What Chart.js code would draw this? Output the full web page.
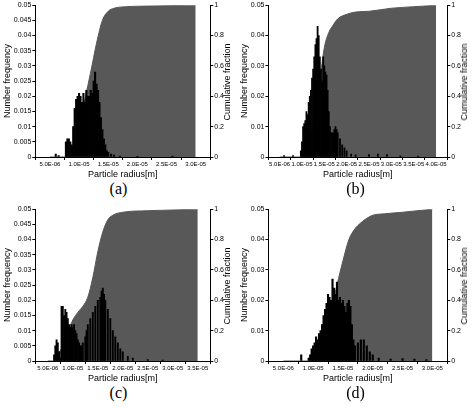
<!DOCTYPE html>
<html><head><meta charset="utf-8">
<script src="https://cdn.jsdelivr.net/npm/chart.js@4/dist/chart.umd.min.js"></script>
<style>
body{margin:0;background:#fff;width:474px;height:407px;overflow:hidden}
.grid{display:grid;grid-template-columns:237px 237px;grid-template-rows:204px 203px}
.cell{position:relative}
.cell canvas{position:absolute;left:0;top:0}
.cap{position:absolute;left:0;width:237px;top:180px;text-align:center;font:16px "Liberation Serif",serif}
.rt{position:absolute;left:227px;top:82px;width:0;height:0;font:9px "Liberation Sans",Arial,sans-serif}
.rt span{position:absolute;transform:translate(-50%,-50%) rotate(-90deg);white-space:nowrap;left:0;top:0}
</style></head><body>
<div class="grid">
<div class="cell"><canvas id="ca" width="237" height="180"></canvas><div class="rt"><span>Cumulative fraction</span></div><div class="cap">(a)</div></div>
<div class="cell"><canvas id="cb" width="237" height="180"></canvas><div class="rt"><span>Cumulative fraction</span></div><div class="cap">(b)</div></div>
<div class="cell"><canvas id="cc" width="237" height="180"></canvas><div class="rt"><span>Cumulative fraction</span></div><div class="cap">(c)</div></div>
<div class="cell"><canvas id="cd" width="237" height="180"></canvas><div class="rt"><span>Cumulative fraction</span></div><div class="cap">(d)</div></div>
</div>
<script>
// radius in micrometres, frequencies, cumulative fraction
const radiusA = [6,6.5,7.75,8,8.25,8.5,8.75,9,9.25,9.5,9.75,10,10.25,10.5,10.75,11,11.25,11.5,11.75,12,12.25,12.5,12.75,13,13.25,13.5,13.75,14,14.25,14.5,14.75,15,15.5,16,17,20,26];
const freqA   = [0.001,0.0005,0.005,0.006,0.006,0.005,0.004,0.01,0.016,0.019,0.02,0.021,0.02,0.018,0.021,0.018,0.022,0.02,0.02,0.022,0.021,0.025,0.028,0.024,0.022,0.018,0.013,0.009,0.006,0.004,0.002,0.0015,0.001,0.0006,0.0003,0.0002,0.0003];
const cumXA = [5,7.7,8,9,10,11,12,13,14,15,16,18,22,30];
const cumYA = [0,0,0.02,0.07,0.2,0.38,0.56,0.75,0.9,0.96,0.98,0.99,0.995,1];

const radiusB = [6,8,9.75,10,10.25,10.5,10.75,11,11.25,11.5,11.75,12,12.25,12.5,12.75,13,13.25,13.5,13.75,14,14.25,14.5,14.75,15,15.25,15.5,15.75,16,16.25,16.5,16.75,17,17.25,17.5,17.75,18,18.5,19,19.5,20,21,22,25,27,29,32,36];
const freqB   = [0.0005,0.0005,0.002,0.005,0.01,0.011,0.012,0.015,0.014,0.018,0.02,0.022,0.026,0.029,0.033,0.037,0.039,0.043,0.04,0.033,0.029,0.025,0.033,0.03,0.028,0.027,0.022,0.015,0.01,0.008,0.008,0.008,0.009,0.01,0.009,0.008,0.006,0.004,0.003,0.002,0.001,0.0007,0.0008,0.001,0.0008,0.0004,0.0003];
const cumXB = [5,9.5,10,11,12,13,14,15,16,17,18,20,22,25,30,35,40];
const cumYB = [0,0,0.01,0.06,0.14,0.28,0.5,0.72,0.82,0.87,0.91,0.94,0.955,0.96,0.98,0.99,1];

const radiusC = [6.25,6.5,6.75,7,7.25,7.5,7.75,8,8.25,8.5,8.75,9,9.25,9.5,9.75,10,10.25,10.5,10.75,11,11.25,11.5,11.75,12,12.5,12.75,13,13.5,14,14.5,15,15.5,15.75,16,16.25,16.5,17,17.5,18,18.5,19,19.5,20,21,22,25,28];
const freqC   = [0.002,0.005,0.007,0.006,0.003,0.001,0.018,0.018,0.015,0.017,0.016,0.014,0.012,0.011,0.012,0.011,0.012,0.01,0.009,0.007,0.006,0.005,0.005,0.006,0.008,0.01,0.012,0.014,0.016,0.018,0.02,0.021,0.023,0.024,0.022,0.02,0.017,0.014,0.01,0.008,0.006,0.004,0.003,0.0015,0.001,0.0005,0.0003];
const cumXC = [5,6,7,7.7,9,10,11,12,13,14,15,16,17,18,20,25,35];
const cumYC = [0,0,0.05,0.08,0.19,0.27,0.32,0.36,0.42,0.55,0.72,0.85,0.93,0.96,0.98,0.99,1];

const radiusD = [8,9.25,9.5,9.75,10,10.25,10.5,10.75,11,11.25,11.5,11.75,12,12.25,12.5,12.75,13,13.25,13.5,13.75,14,14.25,14.5,14.75,15,15.25,15.5,15.75,16,16.25,16.5,16.75,17,17.5,18,18.5,19,19.5,20,21,23,25,27,29];
const freqD   = [0.002,0.001,0.002,0.004,0.005,0.006,0.008,0.007,0.009,0.01,0.012,0.015,0.017,0.019,0.022,0.021,0.02,0.027,0.024,0.022,0.026,0.02,0.021,0.019,0.02,0.018,0.016,0.019,0.02,0.018,0.012,0.007,0.005,0.006,0.007,0.007,0.005,0.003,0.002,0.001,0.0006,0.0008,0.0006,0.0005];
const cumXD = [5,9,10,11,12,13,14,15,16,17,18,19,20,22,25,30];
const cumYD = [0,0,0.03,0.08,0.18,0.32,0.5,0.66,0.8,0.87,0.91,0.94,0.96,0.97,0.98,1];

const font = {family:'"Liberation Sans", Arial, sans-serif', size: 7};

function fmtE(v) {
  const e = Math.floor(Math.log10(v * 1e-6) + 1e-9);
  const m = (v * 1e-6) / Math.pow(10, e);
  const s = e < 0 ? '-' : '+';
  return m.toFixed(1) + 'E' + s + String(Math.abs(e)).padStart(2, '0');
}

function panel(id, xs, fs, cx, cy, xmax, ystep) {
  const axisCommon = {
    border: {color: '#000', width: 1},
    grid: {drawOnChartArea: false, tickLength: 3, color: '#000'},
    ticks: {color: '#000', font: font, padding: 1}
  };
  new Chart(document.getElementById(id), {
    data: {
      datasets: [
        {type: 'bar', data: xs.map((x, i) => ({x: x, y: fs[i]})), backgroundColor: '#000',
         barPercentage: 1, categoryPercentage: 1, yAxisID: 'y', order: 1},
        {type: 'line', data: cx.map((x, i) => ({x: x, y: cy[i]})), yAxisID: 'y2',
         fill: 'origin', backgroundColor: '#585858', borderColor: '#585858', borderWidth: 1,
         pointRadius: 0, cubicInterpolationMode: 'monotone', order: 2}
      ]
    },
    options: {
      responsive: false, animation: false,
      layout: {padding: {top: 4, right: 12, left: 2}},
      plugins: {legend: {display: false}, tooltip: {enabled: false}},
      scales: {
        x: {...axisCommon, type: 'linear', min: 5, max: xmax,
            ticks: {...axisCommon.ticks, font: {...font, size: 6}, stepSize: 5, maxRotation: 0, autoSkip: false, callback: v => fmtE(v)},
            title: {display: true, text: 'Particle radius[m]', color: '#000', font: {...font, size: 9}, padding: 0}},
        y: {...axisCommon, position: 'left', min: 0, max: 0.05,
            ticks: {...axisCommon.ticks, stepSize: ystep, callback: v => String(+v.toFixed(3))},
            title: {display: true, text: 'Number frequency', color: '#000', font: {...font, size: 9}, padding: 0}},
        y2: {...axisCommon, position: 'right', min: 0, max: 1,
            ticks: {...axisCommon.ticks, stepSize: 0.2, callback: v => String(+v.toFixed(1))}}
      }
    }
  });
}

panel('ca', radiusA, freqA, cumXA, cumYA, 30, 0.005);
panel('cb', radiusB, freqB, cumXB, cumYB, 40, 0.01);
panel('cc', radiusC, freqC, cumXC, cumYC, 35, 0.005);
panel('cd', radiusD, freqD, cumXD, cumYD, 30, 0.01);
</script>
</body></html>
